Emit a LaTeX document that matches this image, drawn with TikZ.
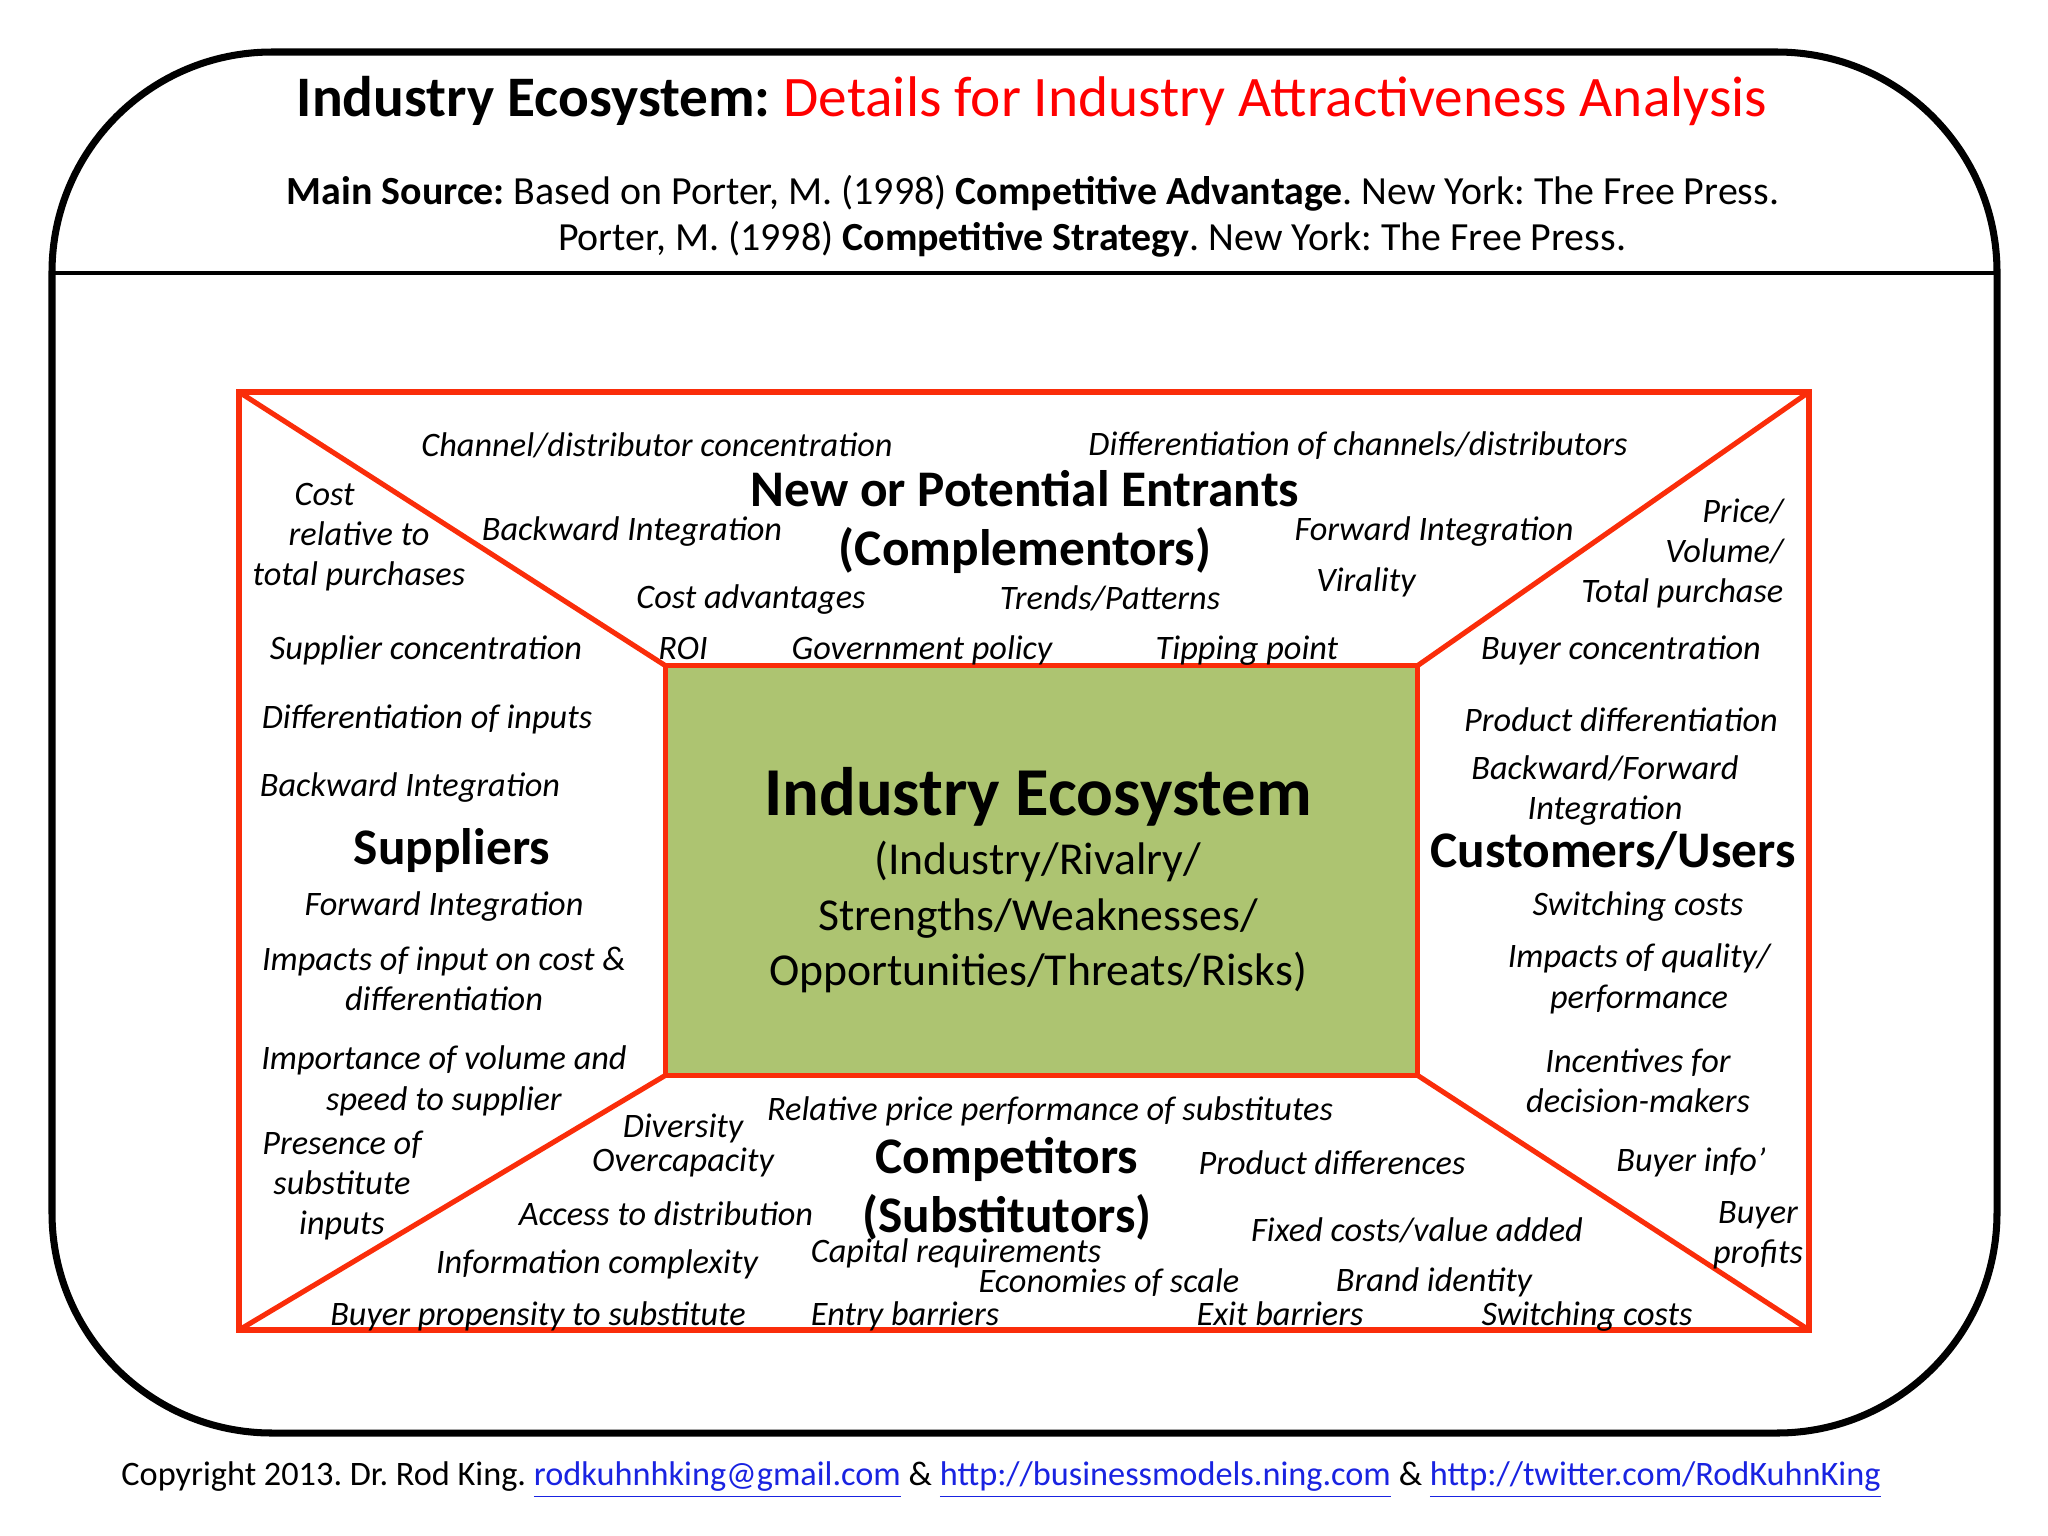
\documentclass[tikz,border=0pt]{standalone}
\usepackage{fontspec}
\setmainfont{Carlito}
\frenchspacing
\definecolor{framered}{RGB}{250,45,10}
\definecolor{ecogreen}{RGB}{173,196,113}
\definecolor{linkblue}{RGB}{25,35,225}
\tikzset{
	lbl/.style={font=\fontsize{9.75}{11.4}\selectfont\itshape,align=center,inner sep=0pt,yshift=-0.8pt},
	head/.style={font=\fontsize{14.6}{16.8}\selectfont\bfseries,align=center,inner sep=0pt,yshift=-0.8pt},
	redline/.style={draw=framered,line width=1.45pt},
	ecobox/.style={redline,fill=ecogreen,inner sep=0pt,outer sep=0pt,minimum width=7.51cm,minimum height=4.09cm},
}
\newcommand{\weblink}[1]{{\color{linkblue}\underline{#1}}}
\begin{document}
\begin{tikzpicture}[x=0.01cm,y=-0.01cm]
	\useasboundingbox (0,0) rectangle (2048,1536);
	\draw[line width=2pt,rounded corners=2.2cm] (52,52) rectangle (1997,1433);
	\draw[line width=1.4pt] (52,273) -- (1997,273);
	\node[inner sep=0pt,font=\fontsize{16.3}{19}\selectfont] (title) at (1032,101) {\textbf{Industry Ecosystem:} \textcolor{red}{Details for Industry Attractiveness Analysis}};
	\node[inner sep=0pt,font=\fontsize{11.35}{13}\selectfont] (src1) at (1033,193) {\textbf{Main Source:} Based on Porter, M. (1998) \textbf{Competitive Advantage}. New York: The Free Press.};
	\node[inner sep=0pt,font=\fontsize{11.35}{13}\selectfont] (src2) at (1092,239) {Porter, M. (1998) \textbf{Competitive Strategy}. New York: The Free Press.};

	\coordinate (f-nw) at (239,392);
	\coordinate (f-ne) at (1809,392);
	\coordinate (f-sw) at (239,1330);
	\coordinate (f-se) at (1809,1330);
	\draw[redline] (f-nw) rectangle (f-se);
	\node[ecobox] (eco) at (1041.5,870.5) {};
	\draw[redline] (f-nw) -- (eco.north west);
	\draw[redline] (f-ne) -- (eco.north east);
	\draw[redline] (f-sw) -- (eco.south west);
	\draw[redline] (f-se) -- (eco.south east);
	\node[inner sep=0pt,font=\fontsize{19.5}{22}\selectfont\bfseries] (ecotitle) at (1038,797) {Industry Ecosystem};
	\node[inner sep=0pt,align=center,font=\fontsize{13}{15.8}\selectfont] (ecosub) at (1038,917) {(Industry/Rivalry/\\Strengths/Weaknesses/\\Opportunities/Threats/Risks)};

	\node[head] (entrants) at (1025,519) {New or Potential Entrants\\(Complementors)};
	\node[lbl] (chan) at (657,443) {Channel/distributor concentration};
	\node[lbl] (diffchan) at (1358,443) {Differentiation of channels/distributors};
	\node[lbl] (backint) at (632,529) {Backward Integration};
	\node[lbl] (fwdint) at (1434,529) {Forward Integration};
	\node[lbl] (virality) at (1366,580) {Virality};
	\node[lbl] (costadv) at (751,597) {Cost advantages};
	\node[lbl] (trends) at (1110,596) {Trends/Patterns};
	\node[lbl] (roi) at (683,646) {ROI};
	\node[lbl] (govt) at (922,648) {Government policy};
	\node[lbl] (tipping) at (1247,648) {Tipping point};
	\node[lbl] (costrel) at (359,534) {Cost\hspace*{2em}\\relative to\\total purchases};
	\node[lbl,align=right,anchor=east] (price) at (1784,551) {Price/\\Volume/\\Total purchase};

	\node[head] (suppliers) at (452,848) {Suppliers};
	\node[lbl] (supconc) at (426,648) {Supplier concentration};
	\node[lbl] (diffinp) at (427,717) {Differentiation of inputs};
	\node[lbl] (supback) at (410,785) {Backward Integration};
	\node[lbl] (supfwd) at (444,904) {Forward Integration};
	\node[lbl] (inpimpact) at (444,976) {Impacts of input on cost \&\\differentiation};
	\node[lbl] (volume) at (444,1078) {Importance of volume and\\speed to supplier};
	\node[lbl] (presence) at (342,1183) {Presence of\\substitute\\inputs};

	\node[head] (customers) at (1613,848) {Customers/Users};
	\node[lbl] (buyconc) at (1621,648) {Buyer concentration};
	\node[lbl] (proddiff) at (1621,717) {Product differentiation};
	\node[lbl] (bfint) at (1605,788) {Backward/Forward\\Integration};
	\node[lbl] (cusswitch) at (1638,904) {Switching costs};
	\node[lbl] (quality) at (1639,976) {Impacts of quality/\\performance};
	\node[lbl] (incent) at (1638,1078) {Incentives for\\decision-makers};
	\node[lbl] (buyinfo) at (1691,1160) {Buyer info'};
	\node[lbl] (buyprofit) at (1758,1232) {Buyer\\profits};

	\node[head] (competitors) at (1007,1186) {Competitors\\(Substitutors)};
	\node[lbl] (diversity) at (683,1126) {Diversity};
	\node[lbl] (overcap) at (683,1160) {Overcapacity};
	\node[lbl] (relprice) at (1050,1109) {Relative price performance of substitutes};
	\node[lbl] (proddif) at (1332,1160) {Product differences};
	\node[lbl] (access) at (666,1211) {Access to distribution};
	\node[lbl] (fixed) at (1417,1228) {Fixed costs/value added};
	\node[lbl] (capital) at (956,1251) {Capital requirements};
	\node[lbl] (infocomp) at (597,1262) {Information complexity};
	\node[lbl] (econ) at (1109,1280) {Economies of scale};
	\node[lbl] (brand) at (1434,1280) {Brand identity};
	\node[lbl] (propens) at (538,1314) {Buyer propensity to substitute};
	\node[lbl] (entry) at (905,1314) {Entry barriers};
	\node[lbl] (exit) at (1280,1311) {Exit barriers};
	\node[lbl] (comswitch) at (1587,1314) {Switching costs};

	\node[inner sep=0pt,font=\fontsize{9.75}{12}\selectfont] (copy) at (1001,1480) {Copyright 2013. Dr. Rod King. \weblink{rodkuhnhking@gmail.com} \& \weblink{http://businessmodels.ning.com} \& \weblink{http://twitter.com/RodKuhnKing}};
\end{tikzpicture}
\end{document}
